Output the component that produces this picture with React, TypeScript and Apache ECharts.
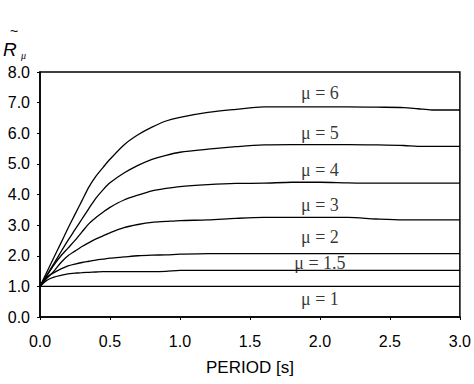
import React, { useEffect, useRef } from "react";
import * as echarts from "echarts";

const periods = [0, 0.05, 0.1, 0.15, 0.2, 0.25, 0.3, 0.35, 0.4, 0.45, 0.5, 0.6, 0.7, 0.8, 0.9, 1.0, 1.2, 1.4, 1.6, 1.8, 2.0, 2.2, 2.4, 2.6, 2.7, 2.8, 3.0];

const mu6 = [1.0, 1.48, 1.95, 2.42, 2.9, 3.35, 3.8, 4.25, 4.6, 4.88, 5.15, 5.62, 5.95, 6.2, 6.4, 6.52, 6.68, 6.78, 6.86, 6.86, 6.86, 6.86, 6.85, 6.84, 6.8, 6.76, 6.76];
const mu5 = [1.0, 1.38, 1.75, 2.13, 2.5, 2.85, 3.2, 3.55, 3.88, 4.15, 4.38, 4.7, 4.95, 5.15, 5.28, 5.38, 5.48, 5.56, 5.62, 5.63, 5.63, 5.63, 5.62, 5.6, 5.57, 5.57, 5.57];
const mu4 = [1.0, 1.35, 1.7, 2.0, 2.25, 2.5, 2.78, 3.05, 3.25, 3.42, 3.58, 3.82, 3.98, 4.12, 4.2, 4.26, 4.32, 4.36, 4.37, 4.4, 4.4, 4.38, 4.37, 4.37, 4.37, 4.37, 4.37];
const mu3 = [1.0, 1.27, 1.5, 1.78, 2.0, 2.15, 2.3, 2.43, 2.55, 2.65, 2.75, 2.92, 3.02, 3.09, 3.12, 3.15, 3.17, 3.22, 3.25, 3.25, 3.25, 3.25, 3.2, 3.17, 3.17, 3.17, 3.17];
const mu2 = [1.0, 1.3, 1.45, 1.57, 1.67, 1.73, 1.78, 1.82, 1.86, 1.89, 1.92, 1.96, 2.0, 2.02, 2.03, 2.05, 2.07, 2.07, 2.07, 2.07, 2.07, 2.07, 2.07, 2.07, 2.07, 2.07, 2.07];
const mu15 = [1.0, 1.2, 1.3, 1.36, 1.41, 1.43, 1.45, 1.46, 1.47, 1.48, 1.48, 1.48, 1.48, 1.48, 1.49, 1.52, 1.52, 1.52, 1.52, 1.52, 1.52, 1.52, 1.52, 1.52, 1.52, 1.52, 1.52];
const mu1 = [1.0, 1.0, 1.0, 1.0, 1.0, 1.0, 1.0, 1.0, 1.0, 1.0, 1.0, 1.0, 1.0, 1.0, 1.0, 1.0, 1.0, 1.0, 1.0, 1.0, 1.0, 1.0, 1.0, 1.0, 1.0, 1.0, 1.0];

const curveNames = ["μ = 6", "μ = 5", "μ = 4", "μ = 3", "μ = 2", "μ = 1.5", "μ = 1"];
const curves = [mu6, mu5, mu4, mu3, mu2, mu15, mu1];

const labelTexts = ["μ = 6", "μ = 5", "μ = 4", "μ = 3", "μ = 2", "μ = 1.5", "μ = 1"];
const labelX = [2.0, 2.0, 2.0, 2.0, 2.0, 2.0, 2.0];
const labelY = [7.3, 6.0, 4.8, 3.66, 2.6, 1.75, 0.6];

const xTicks = [0, 0.5, 1.0, 1.5, 2.0, 2.5, 3.0];
const yTicks = [0, 1, 2, 3, 4, 5, 6, 7, 8];

export default function App() {
  const ref = useRef<HTMLDivElement>(null);
  useEffect(() => {
    if (!ref.current) return;
    const chart = echarts.init(ref.current, null, { renderer: "svg" });
    const lineSeries = curves.map((vals, i) => ({
      type: "line",
      name: curveNames[i],
      data: periods.map((p, j) => [p, vals[j]]),
      showSymbol: false,
      smooth: 0.3,
      lineStyle: { color: "#000", width: 1.3 },
      silent: true,
    }));
    chart.setOption({
      animation: false,
      backgroundColor: "#fff",
      grid: {
        left: 40,
        right: 13,
        top: 72,
        bottom: 67,
        show: true,
        borderColor: "#000",
        borderWidth: 1.5,
        backgroundColor: "transparent",
      },
      xAxis: {
        type: "value",
        min: 0,
        max: 3,
        interval: 0.5,
        name: "PERIOD [s]",
        nameLocation: "middle",
        nameGap: 42,
        nameTextStyle: { fontFamily: "Liberation Sans", fontSize: 17, color: "#000" },
        axisLine: { show: true, lineStyle: { color: "#000", width: 1.5 } },
        axisTick: { show: true, length: 3, lineStyle: { color: "#000" } },
        splitLine: { show: false },
        axisLabel: {
          fontFamily: "Liberation Sans",
          fontSize: 16,
          color: "#000",
          margin: 16,
          formatter: (v: number) => v.toFixed(1),
        },
      },
      yAxis: {
        type: "value",
        min: 0,
        max: 8,
        interval: 1,
        axisLine: { show: true, lineStyle: { color: "#000", width: 1.5 } },
        axisTick: { show: true, length: 3, lineStyle: { color: "#000" } },
        splitLine: { show: false },
        axisLabel: {
          fontFamily: "Liberation Sans",
          fontSize: 16,
          color: "#000",
          margin: 10,
          formatter: (v: number) => v.toFixed(1),
        },
      },
      series: [
        ...lineSeries,
        {
          type: "scatter",
          symbolSize: 0,
          silent: true,
          data: labelX.map((x, i) => ({
            value: [x, labelY[i]],
            label: {
              show: true,
              position: "inside",
              formatter: labelTexts[i],
              fontFamily: "Liberation Serif",
              fontSize: 18,
              color: "#000",
            },
          })),
        },
      ],
      graphic: [
        {
          type: "text",
          left: 3,
          top: 40,
          style: { text: "R", fontFamily: "Liberation Sans", fontStyle: "italic", fontSize: 19, fill: "#000" },
        },
        {
          type: "text",
          left: 10,
          top: 24,
          style: { text: "~", fontFamily: "Liberation Sans", fontSize: 14, fill: "#000" },
        },
        {
          type: "text",
          left: 21,
          top: 50,
          style: { text: "μ", fontFamily: "Liberation Serif", fontStyle: "italic", fontSize: 10, fill: "#000" },
        },
      ],
    });
    return () => chart.dispose();
  }, []);
  return <div ref={ref} style={{ width: 474, height: 384, position: "absolute", left: 0, top: 0 }} />;
}
